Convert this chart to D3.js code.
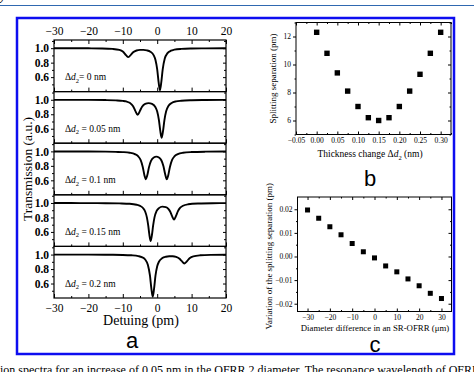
<!DOCTYPE html>
<html>
<head>
<meta charset="utf-8">
<script src="https://cdn.jsdelivr.net/npm/d3@7"></script>
<style>
  body { margin: 0; background: #fff; }
  svg { display: block; }
  svg text { font-family: "Liberation Serif", "Times New Roman", serif; }
  svg text.panel-letter { font-family: "Liberation Sans", Arial, sans-serif; }
</style>
</head>
<body>
<div id="chart"></div>
<script>
// ---- panel a: transmission spectra, one row per thickness change ----
const shiftLabels = ["0", "0.05", "0.1", "0.15", "0.2"];
const gapAfterD = [true, false, false, false, false]; // first label is written "Δd2=  0 nm"

const detuning0 = [-30, -25, -20, -16, -13, -11, -10, -9, -8.4, -7.6, -7, -6, -5, -4, -3, -2, -1, -0.5, 0, 0.4, 0.8, 1.2, 1.6, 2.2, 3, 4, 5, 7, 10, 14, 20];
const trans0 = [0.999, 0.999, 0.998, 0.996, 0.990, 0.976, 0.954, 0.900, 0.876, 0.912, 0.943, 0.968, 0.976, 0.976, 0.970, 0.952, 0.901, 0.838, 0.708, 0.534, 0.418, 0.534, 0.708, 0.856, 0.931, 0.965, 0.979, 0.990, 0.995, 0.997, 0.999];

const detuning1 = [-30, -25, -20, -15, -12, -10, -9, -8, -7, -6.4, -5.7, -5, -4.4, -3.5, -2.5, -1.5, -0.5, 0, 0.5, 0.9, 1.3, 1.7, 2.1, 2.6, 3.3, 4.2, 5.5, 7, 10, 14, 20];
const trans1 = [0.999, 0.999, 0.998, 0.996, 0.992, 0.985, 0.977, 0.958, 0.911, 0.851, 0.792, 0.848, 0.905, 0.944, 0.954, 0.943, 0.897, 0.837, 0.718, 0.569, 0.475, 0.570, 0.720, 0.841, 0.918, 0.956, 0.978, 0.987, 0.994, 0.997, 0.999];

const detuning2 = [-30, -25, -20, -15, -12, -10, -8, -6.5, -5.5, -4.8, -4.2, -3.7, -3.3, -2.9, -2.4, -1.8, -1, -0.25, 0.5, 1.2, 1.8, 2.3, 2.8, 3.2, 3.7, 4.3, 5, 6, 7.5, 10, 14, 20];
const trans2 = [0.999, 0.999, 0.998, 0.996, 0.993, 0.990, 0.981, 0.962, 0.930, 0.878, 0.785, 0.668, 0.615, 0.666, 0.779, 0.868, 0.916, 0.927, 0.916, 0.877, 0.799, 0.688, 0.615, 0.668, 0.785, 0.878, 0.930, 0.962, 0.981, 0.991, 0.996, 0.998];

const detuning3 = [-30, -25, -20, -15, -11, -8, -6, -5, -4.2, -3.5, -3, -2.6, -2.3, -1.9, -1.5, -1.2, -0.8, -0.2, 0.5, 1.5, 2.5, 3.3, 3.8, 4.3, 4.9, 5.5, 6, 6.7, 7.5, 9, 12, 16, 20];
const trans3 = [0.999, 0.999, 0.998, 0.997, 0.994, 0.989, 0.976, 0.961, 0.934, 0.882, 0.801, 0.686, 0.569, 0.474, 0.568, 0.683, 0.798, 0.886, 0.929, 0.949, 0.943, 0.916, 0.879, 0.821, 0.772, 0.824, 0.884, 0.935, 0.962, 0.982, 0.993, 0.997, 0.998];

const detuning4 = [-30, -20, -14, -10, -7.5, -5.5, -4.5, -3.5, -2.7, -2.1, -1.7, -1.3, -0.9, -0.5, 0, 0.5, 1.5, 2.5, 3.5, 4.5, 5.5, 6.5, 7.1, 7.9, 8.5, 9.5, 10.5, 12.5, 15.5, 20];
const trans4 = [0.999, 0.999, 0.997, 0.995, 0.990, 0.979, 0.965, 0.931, 0.856, 0.708, 0.534, 0.418, 0.534, 0.708, 0.838, 0.901, 0.952, 0.970, 0.976, 0.976, 0.968, 0.943, 0.912, 0.876, 0.900, 0.954, 0.976, 0.990, 0.996, 0.998];

const detuningSets = [detuning0, detuning1, detuning2, detuning3, detuning4];
const transSets = [trans0, trans1, trans2, trans3, trans4];

const detuningTicks = [-30, -20, -10, 0, 10, 20];
const detuningMinor = [-25, -15, -5, 5, 15];
const transTicks = [0.6, 0.8, 1.0];
const transMinor = [0.5, 0.7, 0.9, 1.1];

// ---- panel b: splitting vs thickness change ----
const thickness = [0, 0.025, 0.05, 0.075, 0.1, 0.125, 0.15, 0.175, 0.2, 0.225, 0.25, 0.275, 0.3];
const splitting = [12.3, 10.8, 9.4, 8.1, 7.0, 6.2, 6.0, 6.2, 7.0, 8.1, 9.3, 10.8, 12.3];
const thicknessTicks = [-0.05, 0, 0.05, 0.1, 0.15, 0.2, 0.25, 0.3];
const splittingTicks = [6, 8, 10, 12];

// ---- panel c: variation of splitting vs diameter difference ----
const diameterDiff = [-30, -25, -20, -15, -10, -5, 0, 5, 10, 15, 20, 25, 30];
const splitVariation = [0.0197, 0.0162, 0.0126, 0.0092, 0.0055, 0.0020, -0.0006, -0.0040, -0.0065, -0.0095, -0.0124, -0.0156, -0.0178];
const diameterTicks = [-30, -20, -10, 0, 10, 20, 30];
const variationTicks = [-0.02, -0.01, 0, 0.01, 0.02];

const svg = d3.select("#chart").append("svg")
  .attr("width", 474)
  .attr("height", 372);

// page bits around the figure
svg.append("text").attr("x", 0).attr("y", 0).attr("font-size", 14)
  .attr("font-style", "italic").text("y");
svg.append("line").attr("x1", 0).attr("x2", 474).attr("y1", 5.5).attr("y2", 5.5)
  .attr("stroke", "#2f68b0").attr("stroke-width", 1);
svg.append("rect").attr("x", 17).attr("y", 18).attr("width", 437).attr("height", 336)
  .attr("fill", "none").attr("stroke", "#0d0df0").attr("stroke-width", 2.5);
svg.append("text").attr("x", 0).attr("y", 374).attr("font-size", 12)
  .text("ion spectra for an increase of 0.05 nm in the OFRR 2 diameter. The resonance wavelength of OFRR");

// helper: one set of ticks (optionally labelled) along a scale
function ticks(axisFn, scale, values, size, transform, fmt, pad, fs, bold) {
  const ax = axisFn(scale).tickValues(values).tickSizeInner(size).tickSizeOuter(0)
    .tickPadding(pad || 2).tickFormat(fmt || (() => ""));
  const g = svg.append("g").attr("transform", transform).call(ax);
  g.select(".domain").remove();
  g.selectAll("line").attr("stroke", "#000").attr("stroke-width", 1);
  g.selectAll("text").attr("fill", "#000")
    .style("font-size", (fs || 8) + "px")
    .style("font-weight", bold ? "bold" : "normal");
  return g;
}

////////// panel a //////////
const aLeft = 54, aRight = 226, aTop = 40, aBottom = 298;
const rowH = (aBottom - aTop) / 5;
const xA = d3.scaleLinear().domain([-30, 20]).range([aLeft, aRight]);

transSets.forEach((trans, i) => {
  const top = aTop + i * rowH;
  const yA = d3.scaleLinear().domain([0.40, 1.113]).range([top + rowH, top]);
  const pts = detuningSets[i].map((d, j) => [d, trans[j]]);

  const line = d3.line()
    .x(d => xA(d[0]))
    .y(d => yA(d[1]))
    .curve(d3.curveMonotoneX);

  svg.append("path").datum(pts).attr("d", line)
    .attr("fill", "none").attr("stroke", "#000").attr("stroke-width", 1.9);

  // left: labelled ticks pointing out, right: inward
  ticks(d3.axisLeft, yA, transTicks, 3, `translate(${aLeft},0)`, d3.format(".1f"), 2, 11.5, true);
  ticks(d3.axisLeft, yA, transMinor.filter(v => v < 1.113), 2, `translate(${aLeft},0)`);
  ticks(d3.axisRight, yA, transTicks, -3, `translate(${aRight},0)`);
  ticks(d3.axisRight, yA, transMinor.filter(v => v < 1.113), -2, `translate(${aRight},0)`);

  // bottom ticks point up into the row
  const last = i === 4;
  ticks(d3.axisBottom, xA, detuningTicks, -4, `translate(0,${top + rowH})`,
    last ? d3.format("d") : null, 6, 11.5);
  ticks(d3.axisBottom, xA, detuningMinor, -2, `translate(0,${top + rowH})`);
  if (i === 0) {
    ticks(d3.axisTop, xA, detuningTicks, -4, `translate(0,${top})`, d3.format("d"), 5, 11.5);
    ticks(d3.axisTop, xA, detuningMinor, -2, `translate(0,${top})`);
  }

  svg.append("rect").attr("x", aLeft).attr("y", top).attr("width", aRight - aLeft).attr("height", rowH)
    .attr("fill", "none").attr("stroke", "#000").attr("stroke-width", 1.2);

  const note = svg.append("text").attr("x", 65).attr("y", yA(0.6) + 3).attr("font-size", 9.5);
  note.append("tspan").text("Δ");
  note.append("tspan").attr("font-style", "italic").text("d");
  note.append("tspan").attr("font-size", 6.5).attr("dy", 2.5).text("2");
  note.append("tspan").attr("dy", -2.5).text(gapAfterD[i] ? "=  " + shiftLabels[i] + " nm" : " = " + shiftLabels[i] + " nm");
});

svg.append("text")
  .attr("transform", `translate(32,${(aTop + aBottom) / 2}) rotate(-90)`)
  .attr("text-anchor", "middle").attr("font-size", 13.5)
  .text("Transmission (a.u.)");
svg.append("text").attr("x", (aLeft + aRight) / 2 + 1).attr("y", 325)
  .attr("text-anchor", "middle").attr("font-size", 14)
  .text("Detuing (pm)");
svg.append("text").attr("class", "panel-letter").attr("x", 132).attr("y", 348)
  .attr("text-anchor", "middle").attr("font-size", 22)
  .text("a");

////////// panel b //////////
const bLeft = 296, bRight = 451, bTop = 22.5, bBottom = 134.5;
const xB = d3.scaleLinear().domain([-0.05, 0.325]).range([bLeft, bRight]);
const yB = d3.scaleLinear().domain([5, 13]).range([bBottom, bTop]);

ticks(d3.axisBottom, xB, thicknessTicks, -3, `translate(0,${bBottom})`, d3.format(".2f"), 3, 7.5);
ticks(d3.axisBottom, xB, d3.range(-0.025, 0.326, 0.05), -1.5, `translate(0,${bBottom})`);
ticks(d3.axisTop, xB, thicknessTicks, -3, `translate(0,${bTop})`);
ticks(d3.axisTop, xB, d3.range(-0.025, 0.326, 0.05), -1.5, `translate(0,${bTop})`);
ticks(d3.axisLeft, yB, splittingTicks, 3, `translate(${bLeft},0)`, d3.format("d"), 2, 7.5);
ticks(d3.axisLeft, yB, [5, 7, 9, 11, 13], 1.5, `translate(${bLeft},0)`);
ticks(d3.axisRight, yB, splittingTicks, -3, `translate(${bRight},0)`);
ticks(d3.axisRight, yB, [5, 7, 9, 11, 13], -1.5, `translate(${bRight},0)`);

svg.append("rect").attr("x", bLeft).attr("y", bTop).attr("width", bRight - bLeft).attr("height", bBottom - bTop)
  .attr("fill", "none").attr("stroke", "#000").attr("stroke-width", 1);

svg.append("g").selectAll("rect")
  .data(thickness)
  .enter()
  .append("rect")
  .attr("x", (d, i) => xB(d) - 2.7)
  .attr("y", (d, i) => yB(splitting[i]) - 2.7)
  .attr("width", 5.4).attr("height", 5.4)
  .attr("fill", "#000");

svg.append("text")
  .attr("transform", `translate(276,${(bTop + bBottom) / 2}) rotate(-90)`)
  .attr("text-anchor", "middle").attr("font-size", 9)
  .text("Splitting separation (pm)");
const bx = svg.append("text").attr("x", 370).attr("y", 157)
  .attr("text-anchor", "middle").attr("font-size", 9.5);
bx.append("tspan").text("Thickness change Δ");
bx.append("tspan").attr("font-style", "italic").text("d");
bx.append("tspan").attr("font-size", 6.5).attr("dy", 2.5).text("2");
bx.append("tspan").attr("dy", -2.5).text(" (nm)");
svg.append("text").attr("class", "panel-letter").attr("x", 370).attr("y", 186)
  .attr("text-anchor", "middle").attr("font-size", 22)
  .text("b");

////////// panel c //////////
const cLeft = 297.5, cRight = 451.5, cTop = 197, cBottom = 311.5;
const xC = d3.scaleLinear().domain([-34.5, 34.5]).range([cLeft, cRight]);
const yC = d3.scaleLinear().domain([-0.0233, 0.0252]).range([cBottom, cTop]);

ticks(d3.axisBottom, xC, diameterTicks, -3, `translate(0,${cBottom})`, d3.format("d"), 3, 7.5);
ticks(d3.axisBottom, xC, [-25, -15, -5, 5, 15, 25], -1.5, `translate(0,${cBottom})`);
ticks(d3.axisTop, xC, diameterTicks, -3, `translate(0,${cTop})`);
ticks(d3.axisTop, xC, [-25, -15, -5, 5, 15, 25], -1.5, `translate(0,${cTop})`);
ticks(d3.axisLeft, yC, variationTicks, 3, `translate(${cLeft},0)`, d3.format(".2f"), 2, 7.5);
ticks(d3.axisLeft, yC, [-0.015, -0.005, 0.005, 0.015], 1.5, `translate(${cLeft},0)`);
ticks(d3.axisRight, yC, variationTicks, -3, `translate(${cRight},0)`);
ticks(d3.axisRight, yC, [-0.015, -0.005, 0.005, 0.015], -1.5, `translate(${cRight},0)`);

svg.append("rect").attr("x", cLeft).attr("y", cTop).attr("width", cRight - cLeft).attr("height", cBottom - cTop)
  .attr("fill", "none").attr("stroke", "#000").attr("stroke-width", 1);

svg.append("g").selectAll("rect")
  .data(diameterDiff)
  .enter()
  .append("rect")
  .attr("x", d => xC(d) - 2.5)
  .attr("y", (d, i) => yC(splitVariation[i]) - 2.5)
  .attr("width", 5).attr("height", 5)
  .attr("fill", "#000");

svg.append("text")
  .attr("transform", `translate(272,${(cTop + cBottom) / 2 + 2}) rotate(-90)`)
  .attr("text-anchor", "middle").attr("font-size", 9)
  .text("Variation of the splitting separation (pm)");
svg.append("text").attr("x", 375).attr("y", 331)
  .attr("text-anchor", "middle").attr("font-size", 8.8)
  .text("Diameter difference in an SR-OFRR (μm)");
svg.append("text").attr("class", "panel-letter").attr("x", 375).attr("y", 352)
  .attr("text-anchor", "middle").attr("font-size", 22)
  .text("c");
</script>
</body>
</html>
